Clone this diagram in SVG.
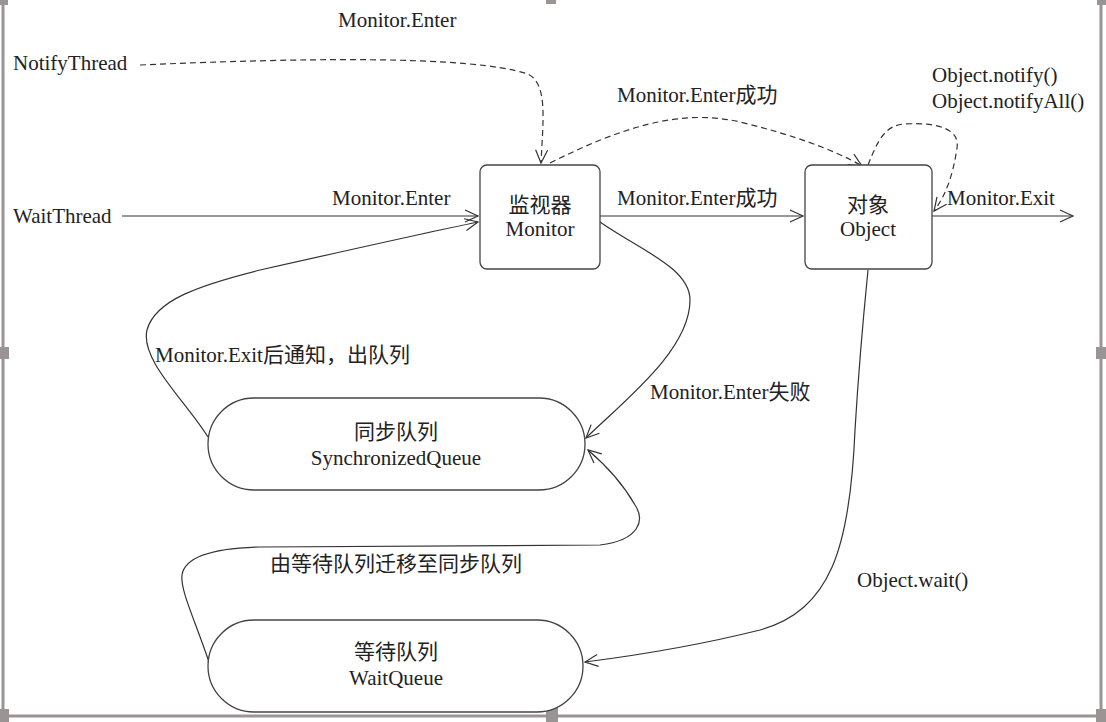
<svg xmlns="http://www.w3.org/2000/svg" width="1106" height="722" viewBox="0 0 1106 722">
<style>
text{font-family:"Liberation Serif","Noto Sans CJK SC",serif;font-size:21px;fill:#222}
.c{text-anchor:middle}
.ln{fill:none;stroke:#333;stroke-width:1.2}
.d{stroke-dasharray:6 4}
.box{fill:#fff;stroke:#444;stroke-width:1.3}
.fr{fill:none;stroke:#9a9494;stroke-width:3}
.hd{fill:#9a9494}
</style>
<defs>
<marker id="ah" markerUnits="userSpaceOnUse" markerWidth="16" markerHeight="14" refX="14" refY="7" orient="auto">
<path d="M1,1 L14,7 L1,13" fill="none" stroke="#333" stroke-width="1.2"/>
</marker>
</defs>
<rect width="1106" height="722" fill="#fff"/>
<g id="frame">
<path class="fr" d="M3,0 V716 H1101 V0"/>
<rect class="hd" x="0" y="0" width="8" height="5"/>
<rect class="hd" x="546" y="0" width="10" height="4"/>
<rect class="hd" x="1097" y="0" width="9" height="5"/>
<rect class="hd" x="0" y="347" width="9" height="12"/>
<rect class="hd" x="1096" y="347" width="10" height="12"/>
<rect class="hd" x="0" y="709" width="9" height="13"/>
<rect class="hd" x="546" y="708" width="12" height="14"/>
<rect class="hd" x="1096" y="709" width="10" height="13"/>
</g>
<g id="connectors">
<path class="ln d" d="M140,65 C300,58 470,55 528,74 C548,84 543,120 541,163" marker-end="url(#ah)"/>
<path class="ln d" d="M550,163 C620,128 680,108 740,122 C790,134 835,150 862,166" marker-end="url(#ah)"/>
<path class="ln d" d="M868,165 C878,140 885,125 905,124 C940,122 960,130 957,148 C953,175 946,195 934,211" marker-end="url(#ah)"/>
<path class="ln" d="M122,216 H478" marker-end="url(#ah)"/>
<path class="ln" d="M600,216 H803" marker-end="url(#ah)"/>
<path class="ln" d="M932,216 H1073" marker-end="url(#ah)"/>
<path class="ln" d="M600,222 C640,250 690,268 690,300 C690,350 625,400 586,438" marker-end="url(#ah)"/>
<path class="ln" d="M208,437 C185,400 140,360 147,330 C155,300 200,285 260,270 C340,252 420,234 478,222" marker-end="url(#ah)"/>
<path class="ln" d="M210,665 C195,620 180,590 182,575 C185,555 220,548 260,547 L600,545 C640,540 645,520 635,505 C622,482 602,462 588,450" marker-end="url(#ah)"/>
<path class="ln" d="M868,270 C862,330 858,380 855,430 C850,550 830,610 760,630 C700,645 640,655 585,662" marker-end="url(#ah)"/>
</g>
<g id="labels">
<text x="338" y="27">Monitor.Enter</text>
<text x="13" y="70">NotifyThread</text>
<text x="13" y="223">WaitThread</text>
<text x="332" y="205">Monitor.Enter</text>
<text x="617" y="102">Monitor.Enter成功</text>
<text x="617" y="205">Monitor.Enter成功</text>
<text x="932" y="82">Object.notify()</text>
<text x="932" y="108">Object.notifyAll()</text>
<text x="947" y="205">Monitor.Exit</text>
<text x="155" y="362">Monitor.Exit后通知，出队列</text>
<text x="650" y="399">Monitor.Enter失败</text>
<text x="270" y="571">由等待队列迁移至同步队列</text>
<text x="857" y="587">Object.wait()</text>
</g>
<g id="monitor">
<rect class="box" x="480" y="165" width="120" height="104" rx="7"/>
<text class="c" x="540" y="212">监视器</text>
<text class="c" x="540" y="236">Monitor</text>
</g>
<g id="object">
<rect class="box" x="805" y="165" width="127" height="104" rx="7"/>
<text class="c" x="868" y="212">对象</text>
<text class="c" x="868" y="236">Object</text>
</g>
<g id="syncQueue">
<rect class="box" x="208" y="398" width="377" height="92" rx="46"/>
<text class="c" x="396" y="439">同步队列</text>
<text class="c" x="396" y="465">SynchronizedQueue</text>
</g>
<g id="waitQueue">
<rect class="box" x="208" y="620" width="375" height="92" rx="46"/>
<text class="c" x="396" y="659">等待队列</text>
<text class="c" x="396" y="685">WaitQueue</text>
</g>
</svg>
